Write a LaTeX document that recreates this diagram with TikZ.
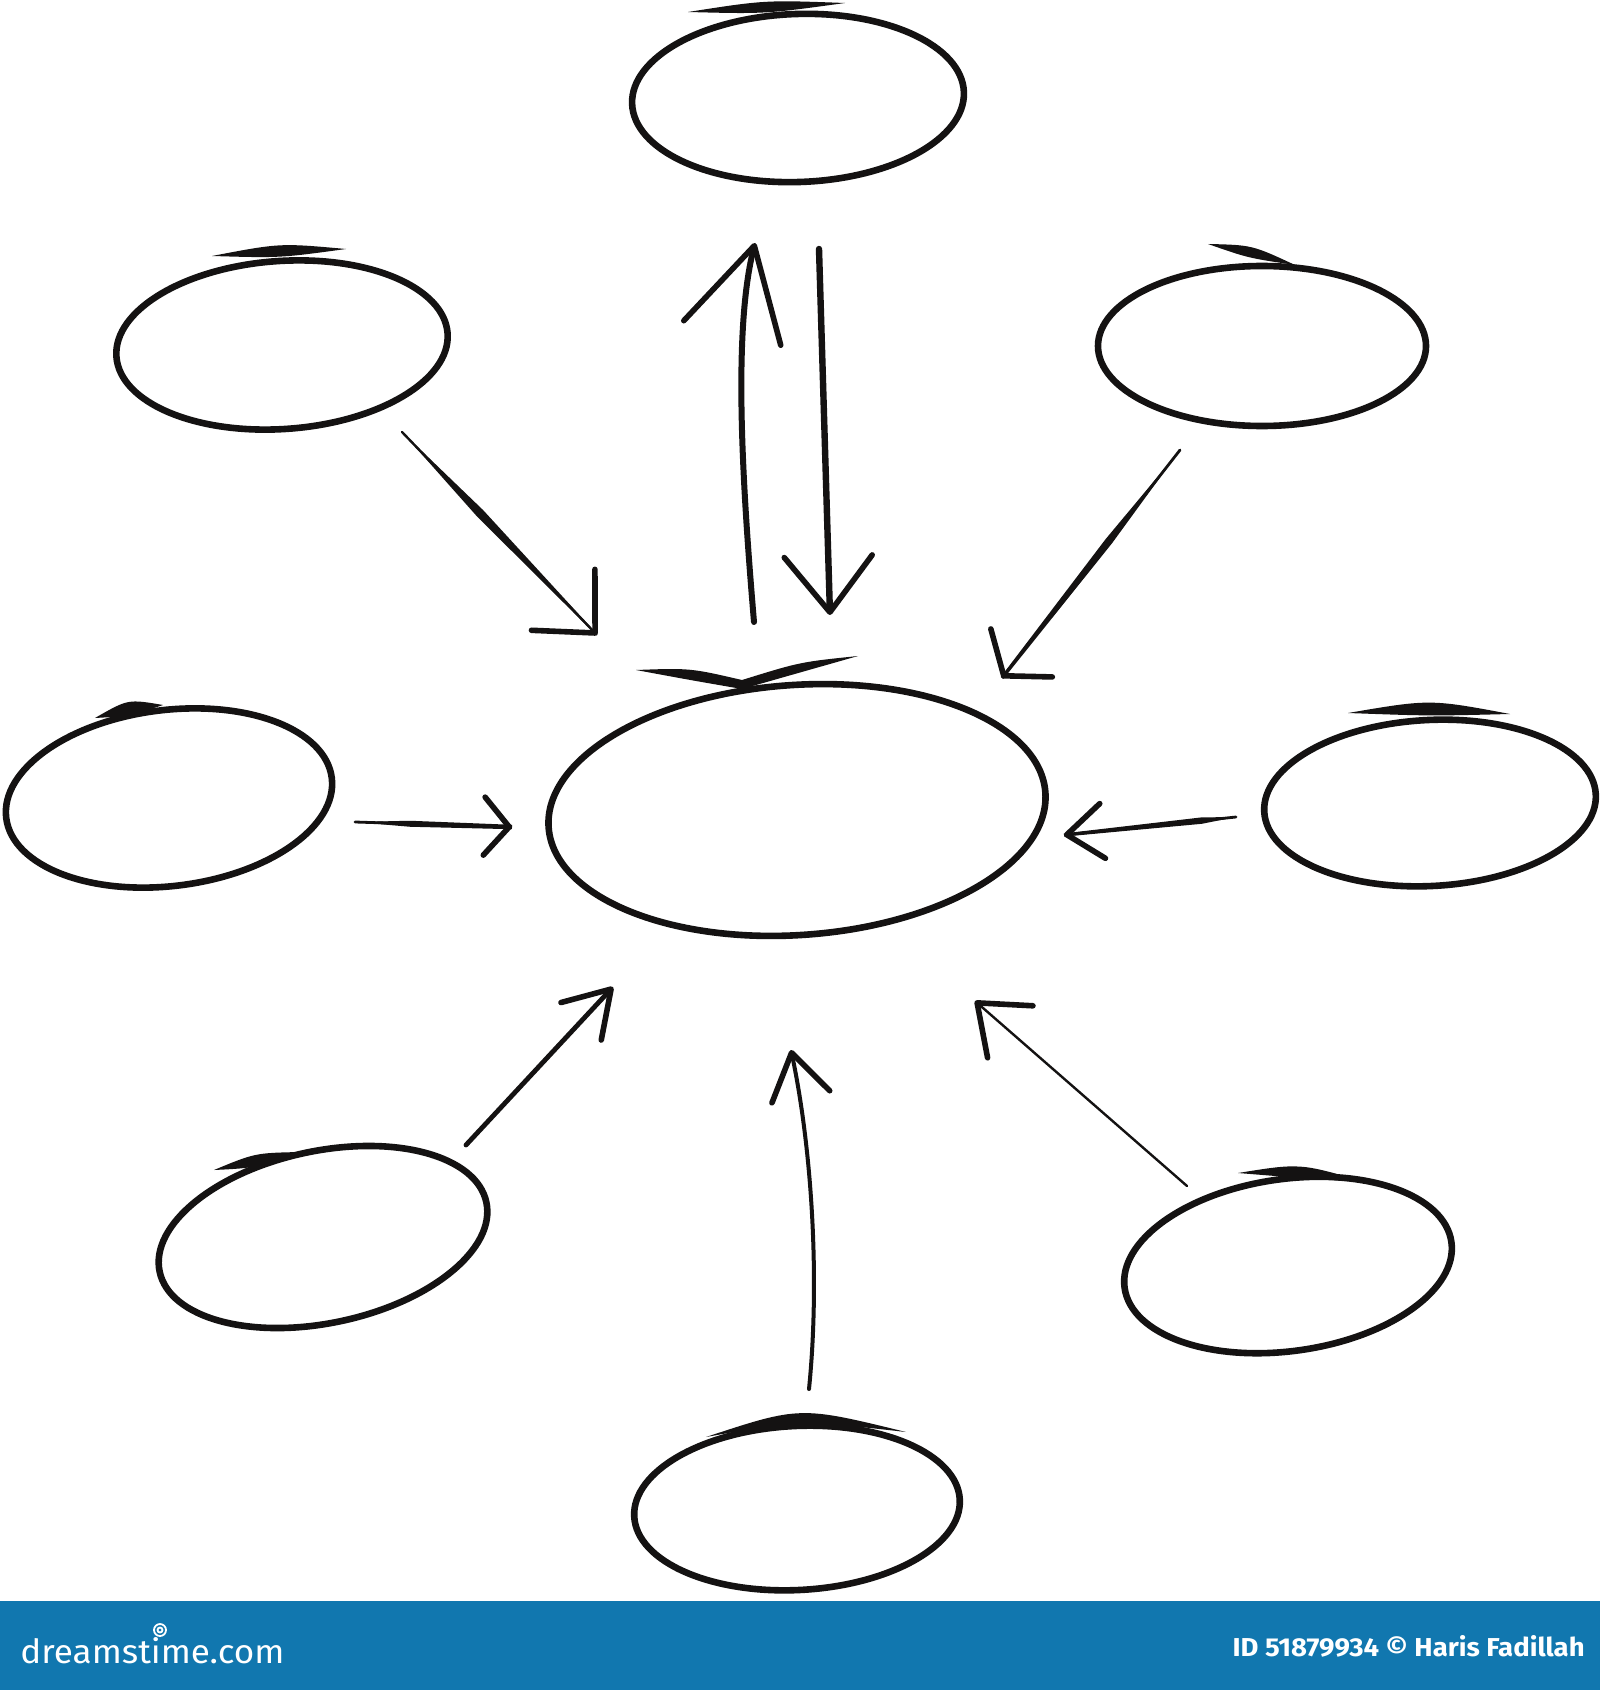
\documentclass[tikz,border=0pt]{standalone}
\usepackage{fontspec}
\newfontfamily\logofont{Fira Sans}
\newfontfamily\idfont{Fira Sans}
\usetikzlibrary{shapes.geometric,arrows.meta,calc}
\definecolor{ink}{RGB}{20,18,18}
\definecolor{banner}{RGB}{17,119,175}
\tikzset{
  bubble/.style={ellipse, draw=ink, line width=3.3pt, inner sep=0pt, outer sep=0pt},
  flick/.style={fill=ink},
  shaft/.style={draw=ink, line cap=round, line join=round},
  hd/.style 2 args={-{Straight Barb[length=#1, width=#2, line width=2.8pt, round]}},
}
% tapered brush body: start point, thickest point, end point, half width there, half width at end
\newcommand\brushbody[5]{\fill[ink] (#1) -- ($(#2)!#4!90:(#3)$) -- ($(#3)!#5!-90:(#2)$) -- ($(#3)!#5!90:(#2)$) -- ($(#2)!#4!-90:(#3)$) -- cycle;}
\begin{document}
\begin{tikzpicture}[x=0.5pt,y=-0.5pt]
\fill[white] (0,0) rectangle (1600,1690);
\useasboundingbox (0,0) rectangle (1600,1690);
\fill[banner] (0,1601) rectangle (1600,1690);

% bubbles
\node[bubble, minimum width=166pt, minimum height=84pt, rotate=2] (top) at (798,98) {};
\node[bubble, minimum width=166pt, minimum height=84pt, rotate=4] (ul) at (282,345) {};
\node[bubble, minimum width=164pt, minimum height=80pt] (ur) at (1262,346) {};
\node[bubble, minimum width=164pt, minimum height=88pt, rotate=7] (l) at (169,798) {};
\node[bubble, minimum width=249pt, minimum height=125pt, rotate=4] (c) at (797,810) {};
\node[bubble, minimum width=166pt, minimum height=83pt, rotate=3] (r) at (1430,803) {};
\node[bubble, minimum width=167pt, minimum height=86pt, rotate=12] (ll) at (323,1237) {};
\node[bubble, minimum width=165pt, minimum height=86pt, rotate=8] (lr) at (1288,1265) {};
\node[bubble, minimum width=163pt, minimum height=82pt, rotate=3] (b) at (797,1508) {};

% pen overshoots (tapered strokes)
\fill[flick] (688,12) .. controls (765,0) .. (845,3) .. controls (765,14) .. cycle;
\fill[flick] (212,256) .. controls (280,243) .. (346,249) .. controls (280,258) .. cycle;
\fill[flick] (1208,244) .. controls (1252,245) .. (1295,265) .. controls (1248,258) .. cycle;
\fill[flick] (95,718) .. controls (128,699) .. (163,705) .. controls (130,716) .. cycle;
\fill[flick] (636,670) .. controls (690,668) .. (742,680) .. controls (800,662) .. (858,656)
  .. controls (800,672) .. (742,689) .. controls (690,680) .. cycle;
\fill[flick] (1348,713) .. controls (1430,699) .. (1510,714) .. controls (1430,716) .. cycle;
\fill[flick] (214,1170) .. controls (255,1153) .. (300,1152) .. controls (255,1168) .. cycle;
\fill[flick] (1238,1173) .. controls (1300,1163) .. (1365,1182) .. controls (1300,1178) .. cycle;
\fill[flick] (706,1437) .. controls (800,1406) .. (906,1432) .. controls (800,1420) .. cycle;

% arrow end points
\coordinate (a1s) at (402,432);  \coordinate (a1e) at (597,635);
\coordinate (a2s) at (754,622);  \coordinate (a2e) at (755,243);
\coordinate (a3s) at (819,249);  \coordinate (a3e) at (830,615);
\coordinate (a4s) at (1180,450); \coordinate (a4e) at (1002,678);
\coordinate (a5s) at (355,822);  \coordinate (a5e) at (512,827);
\coordinate (a6s) at (1236,817); \coordinate (a6e) at (1064,835);
\coordinate (a7s) at (466,1145); \coordinate (a7e) at (613,987);
\coordinate (a8s) at (809,1389); \coordinate (a8e) at (791,1050);
\coordinate (a9s) at (1187,1186);\coordinate (a9e) at (975,1001);
% thickest points of the brush strokes
\coordinate (a1m) at ($(a1s)!0.4!(a1e)$);
\coordinate (a4m) at ($(a4s)!0.4!(a4e)$);
\coordinate (a5m) at ($(a5s)!0.35!(a5e)$);
\coordinate (a6m) at ($(a6s)!0.2!(a6e)$);

% arrows
\brushbody{a1s}{a1m}{a1e}{2.2pt}{0.3pt}
\draw[shaft, line width=1.2pt, hd={23pt}{44pt}] (a1s) -- (a1e);
\draw[shaft, line width=3pt, hd={45pt}{50pt}] (a2s) .. controls (742,480) and (733,330) .. (a2e);
\draw[shaft, line width=3.2pt, hd={28pt}{44pt}] (a3s) -- (a3e);
\brushbody{a4s}{a4m}{a4e}{1.9pt}{0.8pt}
\draw[shaft, line width=1.4pt, hd={14.5pt}{39pt}] (a4s) -- (a4e);
\brushbody{a5s}{a5m}{a5e}{1.5pt}{1.1pt}
\draw[shaft, line width=1.4pt, hd={12.5pt}{29pt}] (a5s) -- (a5e);
\brushbody{a6s}{a6m}{a6e}{1.6pt}{0.8pt}
\draw[shaft, line width=1.4pt, hd={18pt}{27.5pt}] (a6s) -- (a6e);
\draw[shaft, line width=2.4pt, hd={22pt}{27.5pt}] (a7s) -- (a7e);
\draw[shaft, line width=2pt, hd={22.5pt}{29.5pt}] (a8s) .. controls (820,1280) and (812,1150) .. (a8e);
\draw[shaft, line width=1.2pt, hd={22pt}{34.5pt}] (a9s) -- (a9e);

% banner text
\node[anchor=base west, inner sep=0pt, text=white] (logo) at (20,1663)
  {\resizebox{132pt}{13pt}{\logofont dreamstime.com}};
\draw[white, line width=0.9pt] (160,1630) circle[radius=6] (160,1630) circle[radius=2.5];
\node[anchor=base east, inner sep=0pt, text=white] (credit) at (1585,1656)
  {\resizebox{176pt}{10.5pt}{\idfont\bfseries ID 51879934 © Haris Fadillah}};
\end{tikzpicture}
\end{document}
